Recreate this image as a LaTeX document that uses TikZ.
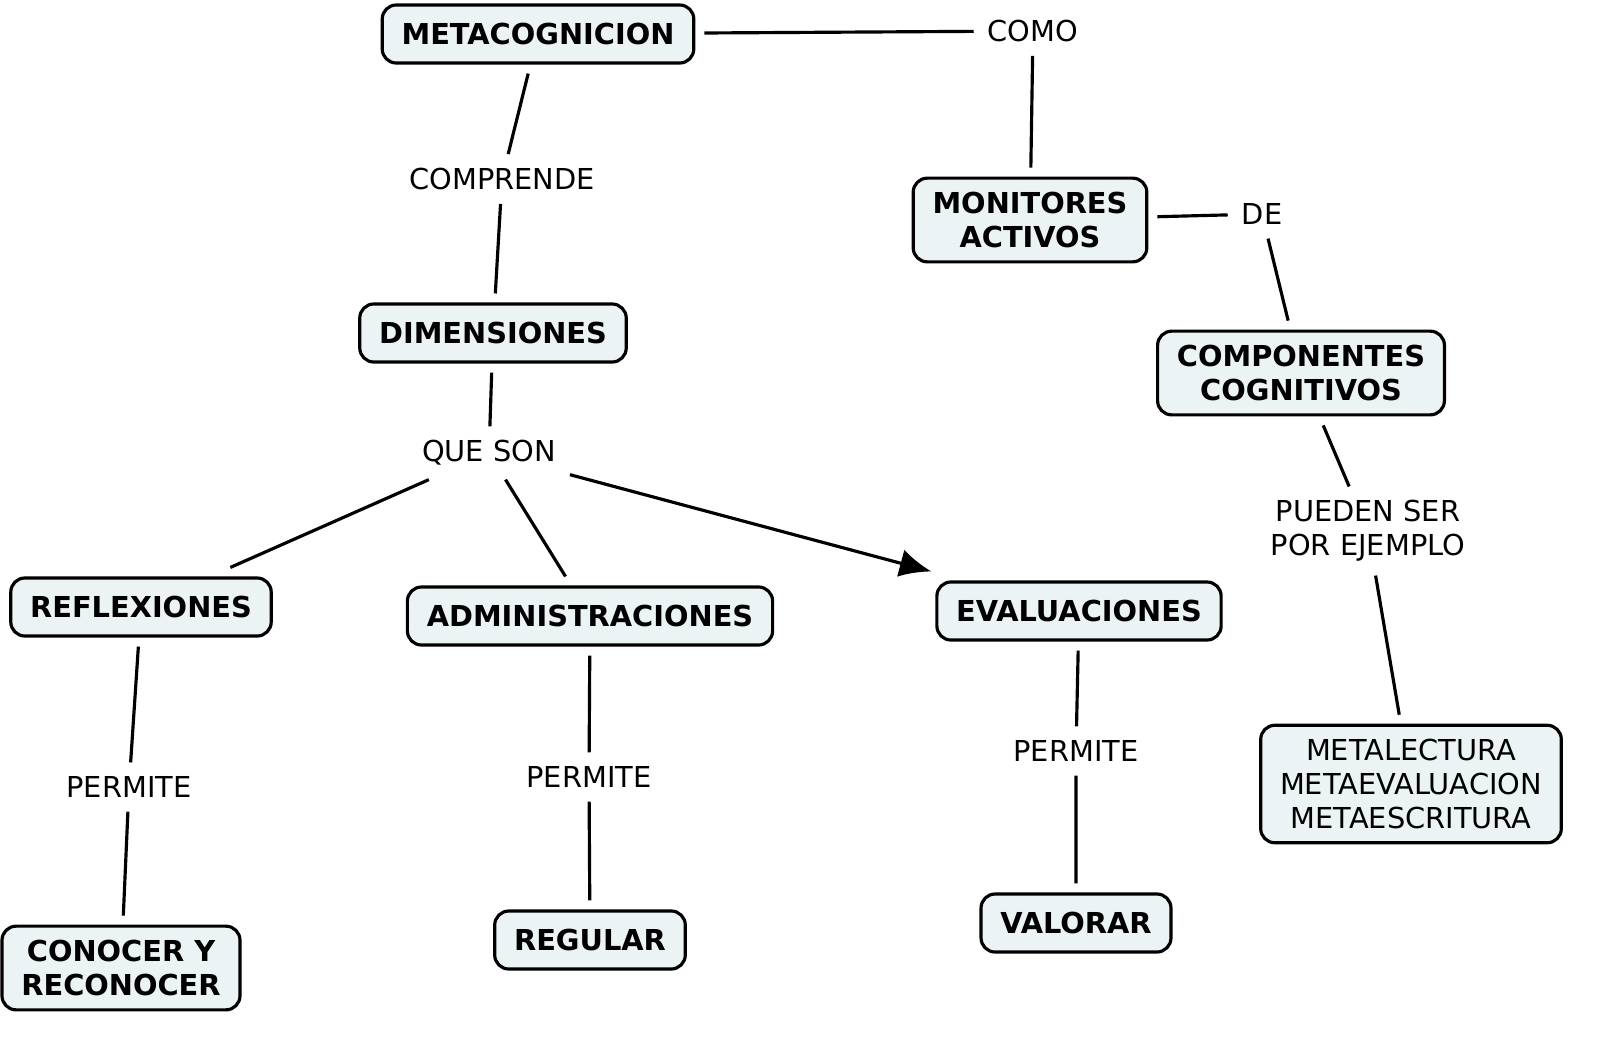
\documentclass[tikz,border=0pt]{standalone}
\usepackage{fontspec}
\setmainfont{DejaVu Sans}
\usetikzlibrary{arrows.meta}
\definecolor{boxfill}{HTML}{EBF3F5}

\begin{document}
\begin{tikzpicture}[x=0.01cm, y=-0.01cm, line width=0.9pt,
    concept/.style={draw, fill=boxfill, rounded corners=4pt, font=\fontsize{8.2}{9.6}\selectfont\bfseries,
      align=center, minimum height=16.5pt, inner xsep=5.5pt, inner ysep=4pt, outer sep=3pt},
    plain/.style={concept, font=\fontsize{8.2}{9.6}\selectfont},
    link/.style={font=\fontsize{8.2}{9.6}\selectfont, align=center, inner sep=1pt, outer sep=3pt}]

  % Frame
  \useasboundingbox (0,0) rectangle (1600,1039);

  % Concepts
  \node[concept] (meta) at (538,34) {METACOGNICION};
  \node[concept] (mon) at (1030,220) {MONITORES\\ACTIVOS};
  \node[concept] (comp) at (1301,373) {COMPONENTES\\COGNITIVOS};
  \node[plain] (ejem) at (1411,784) {METALECTURA\\METAEVALUACION\\METAESCRITURA};
  \node[concept] (dim) at (493,333) {DIMENSIONES};
  \node[concept] (refl) at (141,607) {REFLEXIONES};
  \node[concept] (admin) at (590,616) {ADMINISTRACIONES};
  \node[concept] (eval) at (1079,611) {EVALUACIONES};
  \node[concept] (cono) at (121,968) {CONOCER Y\\RECONOCER};
  \node[concept] (regu) at (590,940) {REGULAR};
  \node[concept] (valo) at (1076,923) {VALORAR};

  % Linking phrases
  \node[link] (como) at (1033,31) {COMO};
  \node[link] (de) at (1262,214) {DE};
  \node[link] (pueden) at (1368,531) {PUEDEN SER\\POR EJEMPLO};
  \node[link] (compr) at (502,179) {COMPRENDE};
  \node[link] (queson) at (489,453) {QUE SON};
  \node[link] (perm1) at (129,787) {PERMITE};
  \node[link] (perm2) at (589,777) {PERMITE};
  \node[link] (perm3) at (1076,751) {PERMITE};

  % Connectors
  \draw (meta) -- (como) -- (mon) -- (de) -- (comp) -- (pueden) -- (ejem);
  \draw (meta) -- (compr) -- (dim) -- (queson);
  \draw (queson) -- (refl);
  \draw (queson) -- (admin);
  \draw[-{Latex[length=9pt,width=8pt]}] (queson) -- (eval);
  \draw (refl) -- (perm1) -- (cono);
  \draw (admin) -- (perm2) -- (regu);
  \draw (eval) -- (perm3) -- (valo);

\end{tikzpicture}
\end{document}
